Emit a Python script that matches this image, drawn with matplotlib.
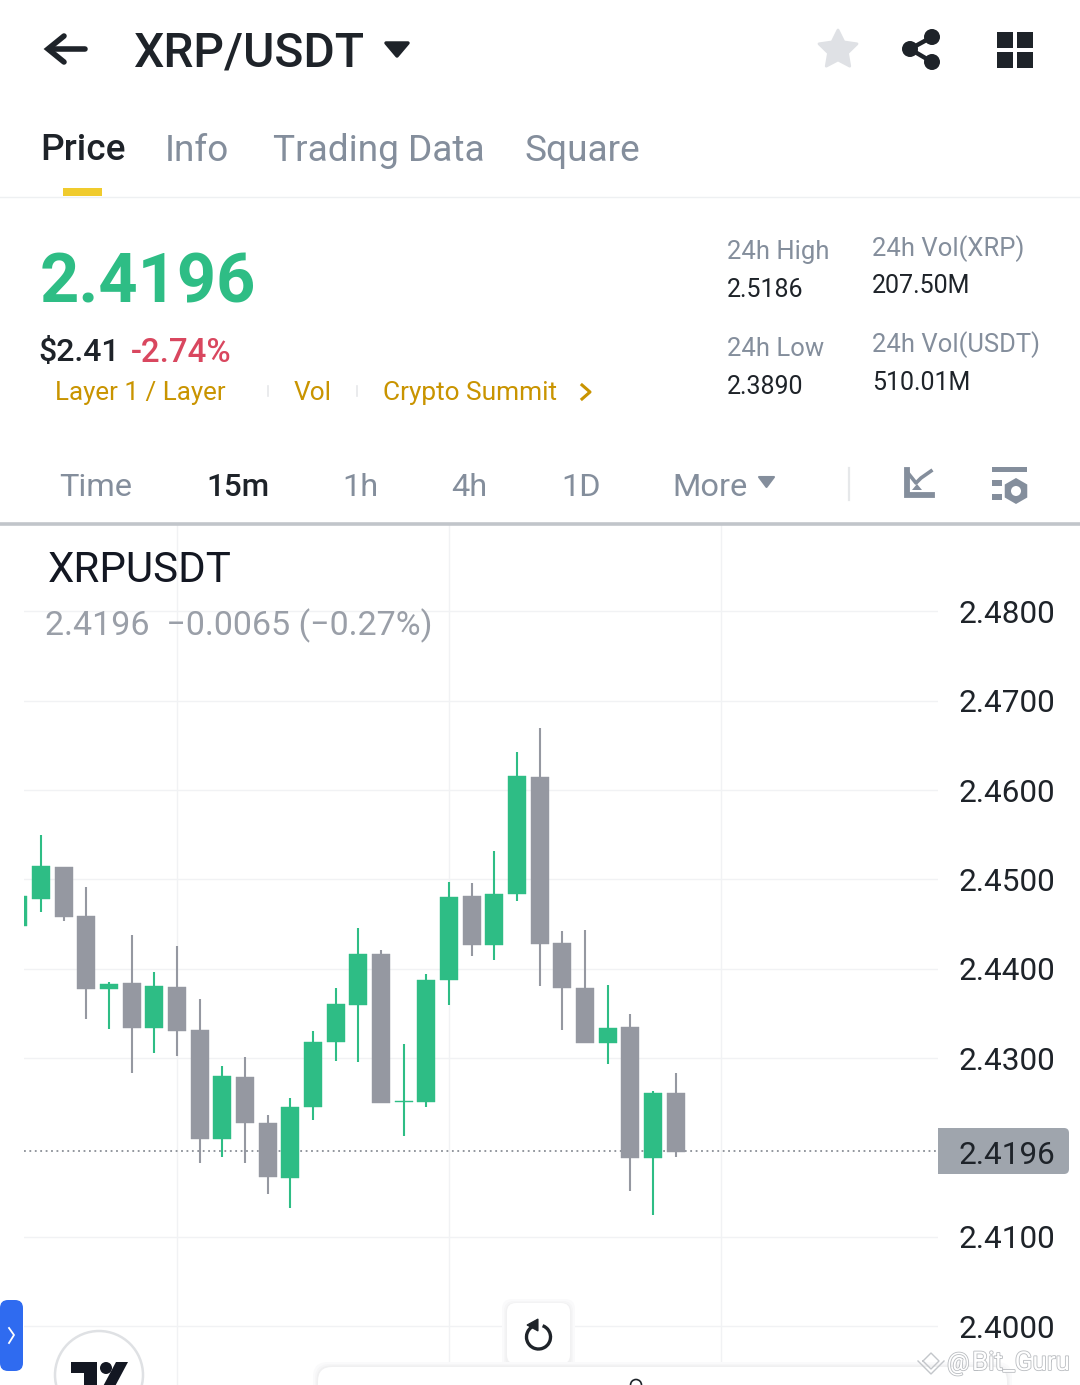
import matplotlib
matplotlib.use("Agg")
import matplotlib.pyplot as plt
import matplotlib.patheffects as pe
from matplotlib.patches import Circle, FancyBboxPatch, Polygon, Rectangle, Arc
import numpy as np

# === DATA ===
opens = [2.4448, 2.4478, 2.4514, 2.4459, 2.4377, 2.4384, 2.4334, 2.4380, 2.4332, 2.4210,
         2.4279, 2.4228, 2.4166, 2.4245, 2.4318, 2.4359, 2.4417, 2.4251, 2.4251, 2.4387,
         2.4481, 2.4427, 2.4484, 2.4615, 2.4429, 2.4379, 2.4317, 2.4335, 2.4188, 2.4261]
closes = [2.4481, 2.4515, 2.4458, 2.4377, 2.4383, 2.4334, 2.4381, 2.4330, 2.4210, 2.4280,
          2.4227, 2.4167, 2.4245, 2.4318, 2.4361, 2.4417, 2.4250, 2.4252, 2.4387, 2.4480,
          2.4427, 2.4484, 2.4616, 2.4428, 2.4378, 2.4317, 2.4334, 2.4188, 2.4261, 2.4195]
highs = [2.4481, 2.4550, 2.4514, 2.4492, 2.4385, 2.4438, 2.4396, 2.4426, 2.4366, 2.4291,
         2.4301, 2.4236, 2.4256, 2.4330, 2.4378, 2.4446, 2.4421, 2.4316, 2.4394, 2.4497,
         2.4496, 2.4532, 2.4643, 2.4669, 2.4442, 2.4443, 2.4382, 2.4349, 2.4263, 2.4283]
lows = [2.4448, 2.4463, 2.4454, 2.4344, 2.4333, 2.4284, 2.4306, 2.4302, 2.4183, 2.4189,
        2.4183, 2.4148, 2.4132, 2.4231, 2.4297, 2.4296, 2.4250, 2.4213, 2.4245, 2.4359,
        2.4414, 2.4410, 2.4476, 2.4381, 2.4331, 2.4317, 2.4293, 2.4151, 2.4125, 2.4189]
price_ticks = [2.40, 2.41, 2.43, 2.44, 2.45, 2.46, 2.47, 2.48]
time_ticks = [7, 19, 31]
last_price = 2.4196

stats = [("24h High", "2.5186"), ("24h Low", "2.3890"),
         ("24h Vol(XRP)", "207.50M"), ("24h Vol(USDT)", "510.01M")]
tabs = ["Price", "Info", "Trading Data", "Square"]
intervals = ["Time", "15m", "1h", "4h", "1D", "More"]

# === COLOURS ===
DARK = "#1e2329"
GRAY = "#848e9c"
GREEN = "#2ebd85"
CANDLE_GRAY = "#9598a1"
GOLD = "#c99400"
GRID = "#f1f2f4"
PX = 72 / 100  # font size in points for 1 px at dpi 100

plt.rcParams["font.family"] = ["Roboto", "DejaVu Sans"]

fig = plt.figure(figsize=(10.8, 13.85), dpi=100, facecolor="white")

# chart panel, lined up with the screenshot pixels
left, right, top, bottom = 24, 938, 525, 1385
ax = fig.add_axes([left / 1080, 1 - bottom / 1385, (right - left) / 1080, (bottom - top) / 1385])
ax.set_xlim((left - 18.33) / 22.667, (right - 18.33) / 22.667)
ax.set_ylim(2.46 - (bottom - 790) / 8940, 2.46 + (790 - top) / 8940)
for s in ax.spines.values():
    s.set_visible(False)
ax.set_xticks(time_ticks)
ax.set_yticks(price_ticks)
ax.yaxis.tick_right()
ax.tick_params(axis="both", length=0)
ax.tick_params(axis="x", labelbottom=False)
ax.tick_params(axis="y", pad=15, labelsize=31.5 * PX, labelcolor=DARK)
ax.set_yticklabels([f"{p:.4f}" for p in price_ticks])
ax.grid(True, color=GRID, lw=1.0)
ax.set_axisbelow(True)
ax.axhline(last_price, color="#8a8f96", lw=1.3, ls=(0, (1, 2)), zorder=1.5)

xs = np.arange(len(opens))
colors = [GREEN if c >= o else CANDLE_GRAY for o, c in zip(opens, closes)]
ax.vlines(xs, lows, highs, colors=colors, lw=1.5, zorder=2)
body_low = np.minimum(opens, closes)
body_h = np.abs(np.array(closes) - np.array(opens))
ax.bar(xs, body_h, bottom=body_low, width=0.794, color=colors, zorder=3, edgecolor=colors, linewidth=0.3)

# everything else is app chrome, drawn in screenshot pixels on top
ui = fig.add_axes([0, 0, 1, 1], facecolor="none")
ui.set_xlim(0, 1080)
ui.set_ylim(1385, 0)
ui.axis("off")


def label(x, y, s, px, color=DARK, weight="normal", ha="left", **kw):
    ui.text(x, y, s, fontsize=px * PX, color=color, fontweight=weight, ha=ha, va="center", **kw)


# top bar
ui.plot([49, 85], [49, 49], color=DARK, lw=4, solid_capstyle="round")
ui.plot([64, 48, 64], [36, 49, 62], color=DARK, lw=4, solid_capstyle="round", solid_joinstyle="miter")
label(133, 53, "XRP/USDT", 48, weight="medium")
ui.add_patch(Polygon([(386, 43), (408, 43), (397, 56)], closed=True, fc=DARK, ec=DARK, lw=2.5, joinstyle="round"))

star = []
for i in range(10):
    r = 20 if i % 2 == 0 else 10
    a = -np.pi / 2 + i * np.pi / 5
    star.append((838 + r * np.cos(a), 50 + r * np.sin(a)))
ui.add_patch(Polygon(star, closed=True, fc="#dfe1e5", ec="#dfe1e5", lw=2, joinstyle="round"))

ui.plot([932, 910, 932], [37, 49, 62], color=DARK, lw=3.2)
for cx, cy in [(932, 37), (910, 49), (932, 62)]:
    ui.add_patch(Circle((cx, cy), 8, fc=DARK, ec="none"))
for gx in (997, 1017):
    for gy in (32, 52):
        ui.add_patch(Rectangle((gx, gy), 16, 15.5, fc=DARK, ec="none"))

# tabs
tab_x = [40, 165, 273, 525]
for i, (x, t) in enumerate(zip(tab_x, tabs)):
    label(x, 151, t, 37, color=DARK if i == 0 else GRAY, weight="medium" if i == 0 else "normal")
ui.add_patch(Rectangle((63, 188), 39, 8, fc="#f0cb2d", ec="none"))
ui.plot([0, 1080], [196.5, 196.5], color="#eef0f2", lw=1)

# price block
label(40, 284, "2.4196", 68.5, color=GREEN, weight="bold")
label(38, 353, "$2.41", 32, weight="medium")
label(131, 353, "-2.74%", 33, color="#d9475f", weight="medium")
label(55, 393, "Layer 1 / Layer", 26, color=GOLD)
label(294, 393, "Vol", 26.3, color=GOLD)
label(383, 393, "Crypto Summit", 26.3, color=GOLD)
ui.plot([582, 590, 582], [385, 392, 399], color=GOLD, lw=2.2)
for x in (268, 357):
    ui.plot([x, x], [386, 396], color="#e6e8ea", lw=1.2)

stat_pos = [(727, 252, 290), (727, 349, 387), (872, 249, 286), (872, 345, 383)]
for (name, value), (x, y1, y2) in zip(stats, stat_pos):
    label(x, y1, name, 25.6, color=GRAY)
    label(x, y2, value, 25)

# interval row
int_x = [59, 206, 342, 451, 561, 672]
for x, t in zip(int_x, intervals):
    if t == "15m":
        label(x, 488, t, 31.5, weight="medium")
    else:
        label(x, 488, t, 32.5, color=GRAY)
ui.add_patch(Polygon([(759, 477), (774, 477), (766.5, 487)], closed=True, fc=GRAY, ec=GRAY, lw=1.5, joinstyle="round"))
ui.plot([849, 849], [468, 500], color="#e6e8ea", lw=1.6)
ui.plot([906.5, 906.5, 932], [470, 494.5, 494.5], color=GRAY, lw=4.2, solid_joinstyle="miter")
ui.plot([908, 916, 921, 931], [473, 483, 478, 471], color=GRAY, lw=2.6)
ui.add_patch(Polygon([(912, 490), (917, 484), (922, 490)], closed=True, fc=GRAY, ec="none"))
ui.add_patch(Rectangle((992, 467), 35, 5, fc=GRAY, ec="none"))
ui.add_patch(Rectangle((992, 480), 10, 6, fc=GRAY, ec="none"))
ui.add_patch(Rectangle((992, 494), 10, 6, fc=GRAY, ec="none"))
hexagon = [(1016 + 13 * np.sin(a), 491 + 13 * np.cos(a)) for a in np.arange(6) * np.pi / 3]
ui.add_patch(Polygon(hexagon, closed=True, fc=GRAY, ec="none"))
ui.add_patch(Circle((1016, 491), 5, fc="white", ec="none"))
ui.plot([0, 1080], [524, 524], color="#c1c5ca", lw=2.6)

# chart legend
label(48, 570, "XRPUSDT", 42, color="#131722")
label(45, 626, "2.4196  \u22120.0065 (\u22120.27%)", 34, color="#9a9fa8")

# last price label
ui.add_patch(FancyBboxPatch((938, 1128), 131, 46, boxstyle="round,pad=0,rounding_size=5", fc="#9fa5ad", ec="none"))
ui.add_patch(Rectangle((938, 1128), 10, 46, fc="#9fa5ad", ec="none"))
label(1007, 1155, "2.4196", 31.5, ha="center")

# bottom widgets
ui.add_patch(FancyBboxPatch((0, 1300), 23, 71, boxstyle="round,pad=0,rounding_size=8", fc="#2f6bf0", ec="none"))
ui.plot([9, 14, 9], [1328, 1335, 1343], color="white", lw=1.3)

ui.add_patch(Circle((99, 1375), 44, fc="white", ec="#dfe1e4", lw=1.8))
ui.add_patch(Rectangle((71, 1362), 26, 11, fc="#131722", ec="none"))
ui.add_patch(Rectangle((84, 1362), 13, 30, fc="#131722", ec="none"))
ui.add_patch(Circle((106, 1368), 6, fc="#131722", ec="none"))
ui.add_patch(Polygon([(116, 1362), (128, 1362), (112, 1392), (100, 1392)], closed=True, fc="#131722", ec="none"))

# soft shadows
for pad, col in [(5, "#fafafb"), (3, "#f6f6f7"), (1.5, "#f1f1f2")]:
    ui.add_patch(FancyBboxPatch((507 - pad, 1303 - pad + 1), 63 + 2 * pad, 63 + 2 * pad,
                                boxstyle="round,pad=0,rounding_size=10", fc=col, ec="none", zorder=3))
ui.add_patch(FancyBboxPatch((507, 1303), 63, 61, boxstyle="round,pad=0,rounding_size=9", fc="white", ec="none", zorder=3))
ui.add_patch(Arc((538.5, 1337), 24, 24, theta1=-70, theta2=240, color=DARK, lw=2.4, zorder=4))
ui.add_patch(Polygon([(538, 1319), (538, 1331), (527, 1325)], closed=True, fc=DARK, ec=DARK, lw=0.8, zorder=4))

for pad, col in [(5, "#fafafb"), (3, "#f6f6f7"), (1.5, "#f0f0f1")]:
    ui.add_patch(FancyBboxPatch((318 - pad, 1367 - pad), 689 + 2 * pad, 40, boxstyle="round,pad=0,rounding_size=15",
                                fc=col, ec="none", zorder=3))
ui.add_patch(FancyBboxPatch((318, 1367), 689, 40, boxstyle="round,pad=0,rounding_size=14", fc="white", ec="none", zorder=3))
ui.add_patch(Arc((636, 1385), 11, 11, theta1=180, theta2=360, color=DARK, lw=1.2, zorder=4))

# watermark
halo = [pe.withStroke(linewidth=1.2, foreground="#b9bcc0")]
ui.plot([918, 931, 944], [1361, 1374, 1361], color="#c3c6ca", lw=1, zorder=5)
ui.plot([923, 931, 939, 931, 923], [1361, 1353, 1361, 1369, 1361], color="#c3c6ca", lw=1, zorder=5)
ui.text(947, 1363, "@", fontsize=25 * PX, color="white", ha="left", va="center", zorder=5, path_effects=halo)
ui.text(972, 1363, "Bit_Guru", fontsize=26 * PX, color="white", ha="left", va="center", zorder=5, path_effects=halo)

fig.savefig("out.png", dpi=100)
